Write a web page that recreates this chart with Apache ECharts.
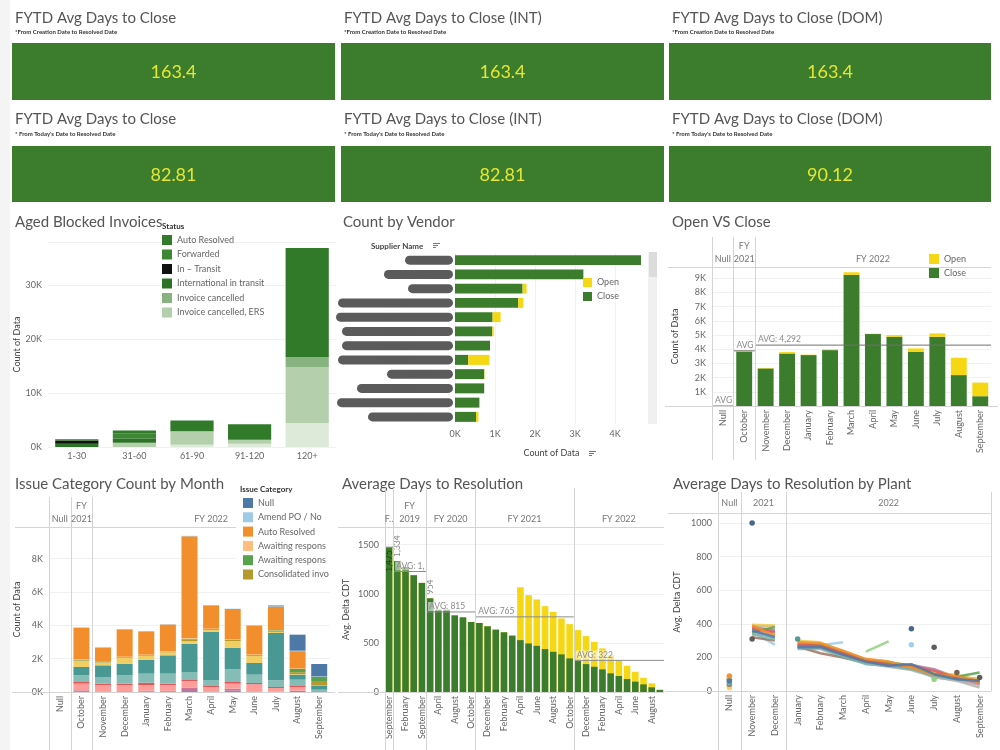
<!DOCTYPE html>
<html>
<head>
<meta charset="utf-8">
<title>Blocked Invoices Dashboard</title>
<script src="https://cdn.jsdelivr.net/npm/echarts@6.0.0/dist/echarts.min.js"></script>
<style>
html,body{margin:0;padding:0;background:#ffffff;}
#chart{width:1000px;height:750px;}
</style>
</head>
<body>
<div id="chart"></div>
<script>
// ================= DATA =================
const kpiTitles = ['FYTD Avg Days to Close','FYTD Avg Days to Close (INT)','FYTD Avg Days to Close (DOM)',
                   'FYTD Avg Days to Close','FYTD Avg Days to Close (INT)','FYTD Avg Days to Close (DOM)'];
const kpiNotes  = ['*From Creation Date to Resolved Date','*From Creation Date to Resolved Date','*From Creation Date to Resolved Date',
                   "* From Today's Date to Resolved Date","* From Today's Date to Resolved Date","* From Today's Date to Resolved Date"];
const kpiValues = ['163.4','163.4','163.4','82.81','82.81','90.12'];

// Aged Blocked Invoices
const ageBuckets = ['1-30','31-60','61-90','91-120','120+'];
const statusNames = ['Auto Resolved','Forwarded','In – Transit','International in transit','Invoice cancelled','Invoice cancelled, ERS','Invoice on hold'];
const agedAutoResolved  = [250, 500, 2000, 2850, 20200];
const agedForwarded     = [0, 1000, 0, 0, 0];
const agedInTransit     = [600, 0, 0, 0, 0];
const agedInternational = [600, 750, 0, 0, 0];
const agedCancelled     = [0, 0, 0, 0, 1850];
const agedCancelledERS  = [0, 800, 2500, 750, 10400];
const agedOnHold        = [0, 0, 400, 600, 4450];

// Count by Vendor (names redacted in the source)
const suppliers   = ['Supplier 01','Supplier 02','Supplier 03','Supplier 04','Supplier 05','Supplier 06',
                     'Supplier 07','Supplier 08','Supplier 09','Supplier 10','Supplier 11','Supplier 12'];
const vendorClose = [4650, 3210, 1690, 1580, 940, 930, 875, 330, 730, 730, 610, 525];
const vendorOpen  = [0, 10, 100, 130, 200, 40, 0, 530, 10, 0, 0, 60];

// Open VS Close
const ocMonths = ['Null','October','November','December','January','February','March','April','May','June','July','August','September'];
const ocClose  = [0, 3820, 2650, 3700, 3590, 3940, 9240, 5070, 4880, 3820, 4880, 2180, 690];
const ocOpen   = [0, 70, 30, 100, 30, 50, 190, 30, 120, 240, 240, 1220, 960];
const ocPaneLabels = ['Null', 'FY\n2021', 'FY 2022'];
const ocPaneStart  = [0, 1, 2];
const ocPaneEnd    = [1, 2, 13];
const ocPaneAvg    = [0, 3890, 4292];

// Issue Category Count by Month
const icMonths = ['Null','October','November','December','January','February','March','April','May','June','July','August','September'];
const issueNames = ['Null','Amend PO / No GR','Auto Resolved','Awaiting response - buyer','Awaiting response - vendor','Consolidated invoice',
                    'Credit note required','Duplicate invoice','Incorrect PO','Invoice cancelled','Price discrepancy','Quantity discrepancy','Tax code issue'];
const icNull         = [0, 0, 0, 0, 0, 0, 0, 0, 0, 0, 50, 960, 740];
const icAmendPO      = [0, 30, 20, 20, 20, 20, 30, 20, 20, 20, 20, 30, 20];
const icAutoResolved = [0, 1900, 860, 1640, 1400, 1600, 6100, 1400, 1800, 1740, 1400, 1040, 0];
const icAwaitBuyer   = [0, 30, 20, 20, 20, 20, 40, 20, 30, 30, 20, 20, 0];
const icAwaitVendor  = [0, 20, 20, 20, 20, 20, 40, 30, 30, 20, 60, 200, 260];
const icConsolidated = [0, 30, 20, 30, 30, 30, 100, 30, 60, 40, 40, 120, 240];
const icCreditNote   = [0, 370, 150, 350, 230, 180, 160, 100, 400, 420, 60, 30, 20];
const icDuplicate    = [0, 500, 700, 700, 840, 1100, 1700, 2900, 1300, 700, 2840, 300, 260];
const icIncorrectPO  = [0, 400, 400, 500, 540, 600, 440, 360, 760, 500, 400, 340, 140];
const icCancelled    = [0, 100, 80, 80, 150, 80, 100, 60, 100, 80, 60, 120, 0];
const icPrice        = [0, 400, 380, 370, 330, 350, 400, 260, 300, 420, 220, 200, 0];
const icQuantity     = [0, 50, 20, 30, 60, 40, 80, 20, 100, 20, 20, 80, 0];
const icTax          = [0, 50, 20, 20, 20, 30, 180, 20, 100, 20, 0, 0, 0];

// Average Days to Resolution
const adrMonths = ['September',
  'January','February','August','September',
  'March','April','July','August','September','October',
  'November','December','January','February','March','April','May','June','July','August','September','October',
  'November','December','January','February','March','April','May','June','July','August','September'];
const adrGreen = [1475, 1334, 1273, 1189, 1111, 954, 838, 838, 780, 760, 713,
                  703, 669, 635, 608, 574, 528, 494, 470, 437, 409, 383, 342,
                  315, 284, 257, 230, 190, 163, 132, 105, 78, 48, 20];
const adrTotal = [1475, 1334, 1273, 1189, 1111, 954, 838, 838, 780, 760, 713,
                  703, 669, 635, 608, 574, 1067, 986, 942, 874, 816, 749, 691,
                  630, 569, 511, 444, 376, 325, 267, 206, 145, 88, 27];
const adrPaneLabels = ['FY 2018', 'FY\n2019', 'FY 2020', 'FY 2021', 'FY 2022'];
const adrPaneStart  = [0, 1, 5, 11, 23];
const adrPaneEnd    = [1, 5, 11, 23, 34];
const adrPaneAvg    = [1475, 1227, 815, 765, 322];

// Average Days to Resolution by Plant
const plantMonths = ['Null','November','December','January','February','March','April','May','June','July','August','September'];
const plantPaneLabels = ['Null', '2021', '2022'];
const plantPaneStart  = [0, 1, 3];
const plantPaneEnd    = [1, 3, 12];
const plantNames = ['Plant 1010','Plant 1020','Plant 1030','Plant 1040','Plant 1050','Plant 1060','Plant 1070','Plant 1080','Plant 1090',
                    'Plant 1100','Plant 1110','Plant 1120','Plant 1130','Plant 1140','Plant 1150','Plant 1160','Plant 1170','Plant 1180'];
const p01 = [60, 360, 320, 260, 262, 215, 175, 150, 160, 100, 70, 60];
const p02 = [90, 390, 330, 290, 285, 240, 190, 175, 140, 95, 90, 50];
const p03 = [null, 370, 350, 275, 270, 225, 180, 160, 150, 120, 80, 60];
const p04 = [50, 340, 310, 255, 255, 205, 160, 150, 130, 90, 70, 55];
const p05 = [null, 350, 380, 280, 275, 230, 185, 170, 150, 100, 85, 110];
const p06 = [80, 395, 390, 300, 290, 235, 185, 170, 145, 110, 95, 65];
const p07 = [null, 380, 360, 270, 265, 220, 175, 160, 155, 130, 80, 45];
const p08 = [null, 330, 360, 285, 280, 225, 180, 165, 145, 110, 75, 40];
const p09 = [40, 320, 300, 265, 225, 200, 170, 155, 135, 95, 85, 70];
const p10 = [null, 385, 385, 250, 250, 200, 165, 145, 125, 85, 60, 20];
const p11 = [null, 355, 275, 270, 272, 290, null, null, 275, null, null, null];
const p12 = [null, null, null, null, null, null, 235, 295, null, 70, null, null];
const p13 = [70, 1000, null, null, null, null, null, null, 370, null, null, null];
const p14 = [null, 310, null, null, null, null, null, null, null, 260, null, 80];
const p15 = [null, null, null, null, null, null, null, null, null, null, 110, null];
const p16 = [null, null, null, 310, null, null, null, null, null, null, null, null];
const p17 = [20, 375, 345, 295, 285, 235, 190, 175, 150, 105, 85, 60];
const p18 = [30, 345, 335, 260, 258, 210, 165, 150, 140, 80, 65, 35];

// ================= STYLE =================
const F = 'Lato, "Noto Sans", "Liberation Sans", sans-serif';
const GREEN = '#3b7c2d';
const YELLOW = '#f6d714';
const PANE_LINE = '#d4d4d4';
const SPLIT = '#f1f1f1';
const AXIS_TXT = '#666666';
const statusColors = ['#317a2a','#3d8734','#111111','#2c7327','#86b37e','#b4cfac','#dde9d9'];
const issueColors = ['#4e79a7','#a0cbe8','#f28e2b','#ffbe7d','#59a14f','#b6992d','#f1ce63','#499894','#86bcb6','#e15759','#ff9d9a','#d37295','#b07aa1'];
const plantColors = ['#4e79a7','#f28e2b','#e15759','#76b7b2','#59a14f','#edc948','#b07aa1','#ff9da7','#9c755f',
                     '#bab0ac','#a0cbe8','#8cd17d','#3f5f80','#555555','#6b5b4b','#499894','#f1ce63','#86bcb6'];
const pillW = [48, 69, 45, 115, 117, 111, 111, 115, 66, 96, 116, 85];

const fmtNum = v => Number(v).toLocaleString('en-US');
const fmtK = v => (v / 1000) + 'K';

const chart = echarts.init(document.getElementById('chart'), null, {width: 1000, height: 750});

const lbl = extra => Object.assign({color: AXIS_TXT, fontSize: 9, fontFamily: F}, extra || {});
const nameStyle = {color: '#444', fontSize: 9, fontFamily: F};

const gridBase = {containLabel: false, outerBoundsMode: 'none'};
const grids = [
  Object.assign({left: 48,  top: 242, width: 288, height: 205}, gridBase),
  Object.assign({left: 455, top: 253, width: 193, height: 171}, gridBase),
  Object.assign({left: 712, top: 267, width: 279, height: 139}, gridBase),
  Object.assign({left: 49,  top: 527, width: 281, height: 165}, gridBase),
  Object.assign({left: 385, top: 527, width: 279, height: 165}, gridBase),
  Object.assign({left: 718, top: 513, width: 273, height: 178}, gridBase)
];

const catAxis = (gridIndex, data, o) => Object.assign({
  type: 'category', gridIndex, data,
  axisLine: {show: false}, axisTick: {show: false},
  axisLabel: lbl({interval: 0, rotate: 90, margin: 4}),
  splitLine: {show: false}
}, o || {});
const hiddenVal = (gridIndex, max) => ({type: 'value', gridIndex, min: 0, max, show: false});
const valAxis = (gridIndex, max, interval, formatter, name, nameGap, extraLabel) => ({
  type: 'value', gridIndex, min: 0, max, interval,
  axisLine: {show: false}, axisTick: {show: false},
  axisLabel: lbl(Object.assign({formatter, showMaxLabel: false, margin: 6}, extraLabel || {})),
  splitLine: {show: true, lineStyle: {color: SPLIT, width: 1}},
  name, nameLocation: 'middle', nameGap, nameTextStyle: nameStyle
});

const xAxis = [
  catAxis(0, ageBuckets, {axisLabel: lbl({interval: 0, margin: 5})}),
  {type: 'value', gridIndex: 1, min: 0, max: 4825, interval: 1000,
   axisLine: {show: false}, axisTick: {show: false},
   axisLabel: lbl({formatter: fmtK, showMaxLabel: false, margin: 6}),
   splitLine: {show: true, lineStyle: {color: SPLIT}},
   name: 'Count of Data', nameLocation: 'middle', nameGap: 25, nameTextStyle: nameStyle},
  catAxis(2, ocMonths),
  hiddenVal(2, 13),
  catAxis(3, icMonths),
  hiddenVal(3, 13),
  catAxis(4, adrMonths, {axisLabel: lbl({interval: 1, rotate: 90, margin: 4})}),
  hiddenVal(4, 34),
  catAxis(5, plantMonths),
  hiddenVal(5, 12)
];

const pillRich = {};
pillW.forEach((w, i) => {
  pillRich['p' + i] = {width: w, height: 9, backgroundColor: '#5b5b5b', color: '#5b5b5b',
                       borderRadius: 4.5, fontSize: 6, align: 'center'};
});

const yAxis = [
  valAxis(0, 38000, 10000, fmtK, 'Count of Data', 26),
  {type: 'category', gridIndex: 1, data: suppliers, inverse: true,
   axisLine: {show: false}, axisTick: {show: false},
   axisLabel: {margin: 2, interval: 0, formatter: (v, i) => '{p' + i + '|' + v + '}', rich: pillRich}},
  valAxis(2, 9800, 1000, v => v === 0 ? '' : fmtK(v), 'Count of Data', 32),
  valAxis(3, 9900, 2000, fmtK, 'Count of Data', 27),
  valAxis(4, 1680, 500, v => String(v), 'Avg. Delta CDT', 34),
  valAxis(5, 1060, 200, v => String(v), 'Avg. Delta CDT', 36)
];

const series = [];

// Aged stacked bars (bottom → top)
const agedArrays = [agedAutoResolved, agedForwarded, agedInTransit, agedInternational, agedCancelled, agedCancelledERS, agedOnHold];
for (let k = agedArrays.length - 1; k >= 0; k--) {
  series.push({type: 'bar', name: statusNames[k], xAxisIndex: 0, yAxisIndex: 0, stack: 'aged',
               barWidth: '75%', data: agedArrays[k], itemStyle: {color: statusColors[k]}});
}

// Vendor bars
series.push({type: 'bar', name: 'Close', xAxisIndex: 1, yAxisIndex: 1, stack: 'vendor', barWidth: '70%',
             data: vendorClose, itemStyle: {color: GREEN}});
series.push({type: 'bar', name: 'Open', xAxisIndex: 1, yAxisIndex: 1, stack: 'vendor', barWidth: '70%',
             data: vendorOpen, itemStyle: {color: YELLOW}});

// Open VS Close
series.push({type: 'bar', name: 'Close', xAxisIndex: 2, yAxisIndex: 2, stack: 'oc', barWidth: '74%',
             data: ocClose, itemStyle: {color: GREEN}});
series.push({type: 'bar', name: 'Open', xAxisIndex: 2, yAxisIndex: 2, stack: 'oc', barWidth: '74%',
             data: ocOpen, itemStyle: {color: YELLOW}});
ocPaneStart.forEach((s, i) => {
  series.push({type: 'line', name: 'AVG', xAxisIndex: 3, yAxisIndex: 2, symbol: 'none', silent: true, z: 5,
               lineStyle: {color: '#707070', width: 1},
               data: [[s, ocPaneAvg[i]], [ocPaneEnd[i], ocPaneAvg[i]]]});
});

// Issue category stacked bars
const icArrays = [icNull, icAmendPO, icAutoResolved, icAwaitBuyer, icAwaitVendor, icConsolidated, icCreditNote,
                  icDuplicate, icIncorrectPO, icCancelled, icPrice, icQuantity, icTax];
for (let k = icArrays.length - 1; k >= 0; k--) {
  series.push({type: 'bar', name: issueNames[k], xAxisIndex: 4, yAxisIndex: 3, stack: 'ic',
               barWidth: '74%', data: icArrays[k], itemStyle: {color: issueColors[k]}});
}

// Average days to resolution (total behind, green in front)
series.push({type: 'bar', name: 'Open days', xAxisIndex: 6, yAxisIndex: 4, barWidth: '80%', barGap: '-100%',
             data: adrTotal, itemStyle: {color: YELLOW}});
const adrGreenData = adrGreen.map((v, i) => {
  if (i === 0) return {value: v, label: {show: true, position: 'insideTop', rotate: 90, align: 'right', verticalAlign: 'middle',
                                          distance: 3, color: '#1f3f1a', fontSize: 8.5, fontFamily: F, formatter: p => fmtNum(p.value)}};
  if (i === 1 || i === 5) return {value: v, label: {show: true, position: 'top', rotate: 90, align: 'left', verticalAlign: 'middle',
                                          distance: 4, color: '#8a8a8a', fontSize: 8.5, fontFamily: F,
                                          backgroundColor: 'rgba(255,255,255,0.5)', formatter: p => fmtNum(p.value)}};
  return v;
});
series.push({type: 'bar', name: 'Closed days', xAxisIndex: 6, yAxisIndex: 4, barWidth: '80%', barGap: '-100%',
             data: adrGreenData, itemStyle: {color: GREEN}});
adrPaneStart.forEach((s, i) => {
  series.push({type: 'line', name: 'AVG', xAxisIndex: 7, yAxisIndex: 4, symbol: 'none', silent: true, z: 5,
               lineStyle: {color: '#8c8c8c', width: 1},
               data: [[s, adrPaneAvg[i]], [adrPaneEnd[i], adrPaneAvg[i]]]});
});

// Plants (drawn last-to-first so the darker lines sit on top)
const plantRows = [p01,p02,p03,p04,p05,p06,p07,p08,p09,p10,p11,p12,p13,p14,p15,p16,p17,p18];
for (let k = plantRows.length - 1; k >= 0; k--) {
  const row = plantRows[k];
  const color = plantColors[k];
  const dots = [];
  plantPaneStart.forEach((s, pi) => {
    const e = plantPaneEnd[pi];
    let seg = false;
    for (let i = s; i < e - 1; i++) if (row[i] != null && row[i + 1] != null) seg = true;
    if (seg) {
      series.push({type: 'line', name: plantNames[k], xAxisIndex: 8, yAxisIndex: 5, showSymbol: false, symbol: 'none',
                   connectNulls: false, z: 3,
                   lineStyle: {color, width: 2.5, opacity: 0.85}, itemStyle: {color},
                   data: plantMonths.map((m, i) => (i >= s && i < e && row[i] != null) ? row[i] : '-')});
    }
    for (let i = s; i < e; i++) {
      if (row[i] == null) continue;
      const prev = i > s ? row[i - 1] : null;
      const next = i < e - 1 ? row[i + 1] : null;
      if (prev == null && next == null) dots.push([i, row[i]]);
    }
  });
  if (dots.length) {
    series.push({type: 'scatter', name: plantNames[k], xAxisIndex: 8, yAxisIndex: 5, symbolSize: 5.5, z: 4,
                 itemStyle: {color, opacity: 0.95}, data: dots});
  }
}

// Titles
const titleStyle = {fontSize: 15, fontWeight: 'normal', color: '#555555', fontFamily: F, lineHeight: 18};
const tileX = [12, 341, 669], tileW = [323, 323, 322];
const rowTitleTop = [9, 110], rowNoteY = [32, 134], rowBoxY = [43, 146], rowBoxH = [57, 56];
const title = [];
kpiTitles.forEach((t, i) => {
  const c = i % 3, r = Math.floor(i / 3);
  title.push({text: t, left: tileX[c] + 3, top: rowTitleTop[r], padding: 0, textStyle: titleStyle});
});
[['Aged Blocked Invoices', 15, 213], ['Count by Vendor', 343, 213], ['Open VS Close', 672, 213],
 ['Issue Category Count by Month', 15, 475], ['Average Days to Resolution', 342, 475],
 ['Average Days to Resolution by Plant', 673, 475]].forEach(([t, x, y]) => {
  title.push({text: t, left: x, top: y, padding: 0, textStyle: titleStyle});
});

// Legends
const legBase = {orient: 'vertical', itemWidth: 10, itemHeight: 10, padding: 0, icon: 'rect', selectedMode: false,
                 textStyle: {color: '#666', fontSize: 9, fontFamily: F}};
const legend = [
  Object.assign({}, legBase, {left: 162, top: 235, itemGap: 4.5,
    data: statusNames.slice(0, 6).map((n, i) => ({name: n, itemStyle: {color: statusColors[i]}}))}),
  Object.assign({}, legBase, {left: 583, top: 278, itemWidth: 9, itemHeight: 9, itemGap: 5,
    data: [{name: 'Open', itemStyle: {color: YELLOW}}, {name: 'Close', itemStyle: {color: GREEN}}]}),
  Object.assign({}, legBase, {left: 929, top: 254, itemGap: 4,
    data: [{name: 'Open', itemStyle: {color: YELLOW}}, {name: 'Close', itemStyle: {color: GREEN}}]}),
  Object.assign({}, legBase, {left: 243, top: 498, itemGap: 4.3, z: 12,
    textStyle: {color: '#666', fontSize: 9, fontFamily: F, width: 72, overflow: 'truncate', ellipsis: ''},
    data: issueNames.slice(0, 6).map((n, i) => ({name: n, itemStyle: {color: issueColors[i]}}))})
];

// Base graphics
const T = (x, y, text, o) => ({type: 'text', silent: true, z: 20, x, y,
  style: Object.assign({text, fill: '#777', fontSize: 9, fontFamily: F, align: 'center', verticalAlign: 'bottom'}, o || {})});
const L = (x1, y1, x2, y2, color) => ({type: 'line', silent: true, z: 8,
  shape: {x1, y1, x2, y2}, style: {stroke: color || PANE_LINE, lineWidth: 1}});
const sortIcon = (x, y) => ([
  L(x, y + 0.5, x + 7, y + 0.5, '#777'), L(x, y + 2.5, x + 5, y + 2.5, '#777'), L(x, y + 4.5, x + 3, y + 4.5, '#777')
]);

const baseG = [];
baseG.push({type: 'rect', silent: true, z: 0, shape: {x: 0, y: 0, width: 10, height: 750}, style: {fill: '#f4f4f4'}});
kpiValues.forEach((v, i) => {
  const c = i % 3, r = Math.floor(i / 3);
  baseG.push({type: 'rect', silent: true, z: 1, shape: {x: tileX[c], y: rowBoxY[r], width: tileW[c], height: rowBoxH[r]},
              style: {fill: '#3c7d2d'}});
  baseG.push(T(tileX[c] + 3, rowNoteY[r], kpiNotes[i], {align: 'left', verticalAlign: 'middle', fontSize: 6, fontWeight: 'bold', fill: '#333'}));
  baseG.push(T(tileX[c] + tileW[c] / 2, rowBoxY[r] + rowBoxH[r] / 2 + 1, v,
               {align: 'center', verticalAlign: 'middle', fontSize: 18, fill: '#e6e633'}));
});
baseG.push(T(162, 226, 'Status', {align: 'left', verticalAlign: 'middle', fontSize: 8, fontWeight: 'bold', fill: '#333'}));
baseG.push(T(371, 246, 'Supplier Name', {align: 'left', verticalAlign: 'middle', fontSize: 8, fontWeight: 'bold', fill: '#444'}));
baseG.push(...sortIcon(433, 243));
baseG.push(...sortIcon(589, 451));
// scrollbar of vendor list
baseG.push({type: 'rect', silent: true, z: 2, shape: {x: 649, y: 252, width: 8, height: 172}, style: {fill: '#f0f0f0'}});
baseG.push({type: 'rect', silent: true, z: 3, shape: {x: 649, y: 252, width: 8, height: 25}, style: {fill: '#dcdcdc'}});
// legend panel for issue category
baseG.push({type: 'rect', silent: true, z: 9, shape: {x: 236, y: 480, width: 99, height: 108}, style: {fill: '#ffffff'}});
baseG.push(T(240, 489, 'Issue Category', {align: 'left', verticalAlign: 'middle', fontSize: 8, fontWeight: 'bold', fill: '#333'}));

chart.setOption({
  animation: false,
  backgroundColor: '#ffffff',
  textStyle: {fontFamily: F},
  title, legend, grid: grids, xAxis, yAxis, series,
  graphic: {elements: baseG}
});

// ================= PANE DECORATION (positions from the axes) =================
const vx = (axis, v) => chart.convertToPixel({xAxisIndex: axis}, v);
const vy = (axis, v) => chart.convertToPixel({yAxisIndex: axis}, v);
const crisp = v => Math.round(v) + 0.5;
const fit = (text, w, size, ell) => echarts.format.truncateText(text, w, size + 'px ' + F, ell);

function panes(axis, starts, ends, labels, cfg) {
  const out = [];
  starts.forEach((s, i) => {
    const x0 = vx(axis, s), x1 = vx(axis, ends[i]);
    const x = crisp(x0);
    out.push(L(x, cfg.sepTop, x, cfg.sepBottom));
    const w = Math.max(x1 - x0 + 3, 12);
    const txt = labels[i].split('\n').map(t => fit(t, w, 9, '..')).join('\n');
    out.push(T((x0 + x1) / 2, cfg.headY, txt, {lineHeight: 13}));
  });
  out.push(L(cfg.lineX0, crisp(cfg.topY), cfg.lineX1, crisp(cfg.topY)));
  out.push(L(cfg.baseX0, crisp(cfg.baseY), cfg.baseX1, crisp(cfg.baseY)));
  return out;
}
function avgLabels(xa, ya, starts, ends, avgs, color) {
  return starts.map((s, i) => {
    const x0 = vx(xa, s), x1 = vx(xa, ends[i]);
    const txt = fit('AVG: ' + fmtNum(avgs[i]), x1 - x0 - 2, 8.5, '');
    return T(x0 + 2, vy(ya, avgs[i]) - 1, txt,
             {align: 'left', fontSize: 8.5, fill: color, backgroundColor: 'rgba(255,255,255,0.55)', padding: [0, 1]});
  });
}

const decor = [];
decor.push(...panes(3, ocPaneStart, ocPaneEnd, ocPaneLabels,
  {sepTop: 237, sepBottom: 460, headY: 266, topY: 267, lineX0: 668, lineX1: 991, baseY: vy(2, 0), baseX0: 665, baseX1: 998}));
decor.push(...panes(5, [0, 1, 2], [1, 2, 13], ['Null', 'FY\n2021', 'FY 2022'],
  {sepTop: 497, sepBottom: 750, headY: 526, topY: 527, lineX0: 15, lineX1: 236, baseY: vy(3, 0), baseX0: 12, baseX1: 335}));
decor.push(...panes(7, adrPaneStart, adrPaneEnd, adrPaneLabels,
  {sepTop: 488, sepBottom: 750, headY: 526, topY: 527, lineX0: 338, lineX1: 664, baseY: vy(4, 0), baseX0: 338, baseX1: 664}));
decor.push(...panes(9, plantPaneStart, plantPaneEnd, plantPaneLabels,
  {sepTop: 492, sepBottom: 750, headY: 510, topY: 513, lineX0: 668, lineX1: 991, baseY: vy(5, 0), baseX0: 665, baseX1: 991}));
const rx = crisp(vx(9, 12));
decor.push(L(rx, 492, rx, vy(5, 0)));
decor.push(...avgLabels(3, 2, ocPaneStart, ocPaneEnd, ocPaneAvg, '#8a8a8a'));
decor.push(...avgLabels(7, 4, adrPaneStart, adrPaneEnd, adrPaneAvg, '#8a8a8a'));

chart.setOption({graphic: {elements: baseG.concat(decor)}});
</script>
</body>
</html>
